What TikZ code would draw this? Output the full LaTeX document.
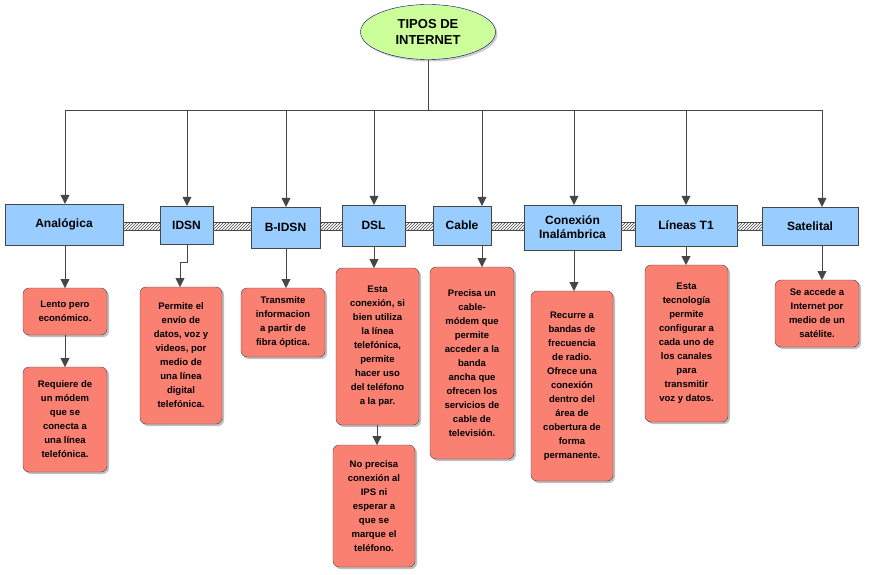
\documentclass[tikz,border=0pt]{standalone}
\usepackage{fontspec}
\setmainfont{Liberation Sans}
\usetikzlibrary{shapes.geometric,arrows.meta,patterns,shadows}
\definecolor{catblue}{RGB}{153,204,255}
\definecolor{detred}{RGB}{250,128,114}
\definecolor{topgreen}{RGB}{204,255,153}
\definecolor{lin}{RGB}{70,70,70}
\tikzset{
 cat/.style={draw=lin,fill=catblue,font=\bfseries\fontsize{12}{14}\selectfont,align=center,inner sep=0pt},
 det/.style={draw=lin,fill=detred,rounded corners=6pt,font=\bfseries\fontsize{9.5}{14}\selectfont,align=center,inner sep=0pt,drop shadow={shadow xshift=2pt,shadow yshift=-2pt,opacity=0.5}},
 arr/.style={draw=lin,-{Triangle[length=9pt,width=9pt]}},
}
\newcommand{\bx}[6]{\node[#1,minimum width=#4-#2,minimum height=#5-#3] (#6) at ({(#2+#4)/2},{(#3+#5)/2})}
\begin{document}
\begin{tikzpicture}[x=1pt,y=-1pt]
\useasboundingbox (0,0) rectangle (875,575);
\fill[white] (0,0) rectangle (875,575);
% hatched band
\draw[lin,pattern=north east lines,pattern color=lin] (123,222) rectangle (762,230);
\node[ellipse,draw=blue!50!black,fill=topgreen,minimum width=135,minimum height=55,font=\bfseries\fontsize{13}{16}\selectfont,align=center,inner sep=0pt,drop shadow={shadow xshift=2pt,shadow yshift=-2pt,opacity=0.4}] (top) at (428,32) {TIPOS DE\\INTERNET};
\bx{cat}{5}{204}{123}{245}{ana}{Analógica};
\bx{cat}{160}{206}{213}{244}{idsn}{IDSN};
\bx{cat}{251}{207}{320}{248}{bidsn}{B-IDSN};
\bx{cat}{342}{205}{405}{246}{dsl}{DSL};
\bx{cat}{433}{206}{491}{245}{cab}{Cable};
\bx{cat}{524}{205}{621}{250}{ina}{Conexión\\Inalámbrica};
\bx{cat}{635}{205}{737}{246}{t1}{Líneas T1};
\bx{cat}{762}{207}{858}{245}{sat}{Satelital};
\bx{det}{23}{288}{107}{335}{d1}{Lento pero\\económico.};
\bx{det}{23}{367}{107}{472}{d2}{Requiere de\\un módem\\que se\\conecta a\\una línea\\telefónica.};
\bx{det}{140}{287}{222}{424}{d3}{Permite el\\envío de\\datos, voz y\\videos, por\\medio de\\una línea\\digital\\telefónica.};
\bx{det}{241}{288}{325}{357}{d4}{Transmite\\informacion\\a partir de\\fibra óptica.};
\bx{det}{336}{268}{419}{425}{d5}{Esta\\conexión, si\\bien utiliza\\la línea\\telefónica,\\permite\\hacer uso\\del teléfono\\a la par.};
\bx{det}{333}{445}{415}{567}{d6}{No precisa\\conexión al\\IPS ni\\esperar a\\que se\\marque el\\teléfono.};
\bx{det}{430}{267}{514}{459}{d7}{Precisa un\\cable-\\módem que\\permite\\acceder a la\\banda\\ancha que\\ofrecen los\\servicios de\\cable de\\televisión.};
\bx{det}{531}{291}{613}{481}{d8}{Recurre a\\bandas de\\frecuencia\\de radio.\\Ofrece una\\conexión\\dentro del\\área de\\cobertura de\\forma\\permanente.};
\bx{det}{645}{265}{728}{422}{d9}{Esta\\tecnología\\permite\\configurar a\\cada uno de\\los canales\\para\\transmitir\\voz y datos.};
\bx{det}{775}{280}{859}{347}{d10}{Se accede a\\Internet por\\medio de un\\satélite.};
% tree
\coordinate (hub) at (428,110);
\draw[lin] (top.south) -- (hub);
\draw[lin] (65,110) -- (822,110);
\foreach \n/\x in {ana/65,idsn/187,bidsn/286,dsl/374,cab/482,ina/574,t1/686,sat/822}
  \draw[arr] (\x,110) -- (\x,0 |- \n.north);
\draw[arr] (65,245) -- (65,288);
\draw[arr] (65,335) -- (65,367);
\draw[arr] (187,244) -- (187,262) -- (180,262) -- (180,287);
\draw[arr] (286,248) -- (286,288);
\draw[arr] (374,246) -- (374,268);
\draw[arr] (377,425) -- (377,445);
\draw[arr] (482,245) -- (482,267);
\draw[arr] (574,250) -- (574,291);
\draw[arr] (686,246) -- (686,265);
\draw[arr] (822,245) -- (822,280);
\end{tikzpicture}
\end{document}
